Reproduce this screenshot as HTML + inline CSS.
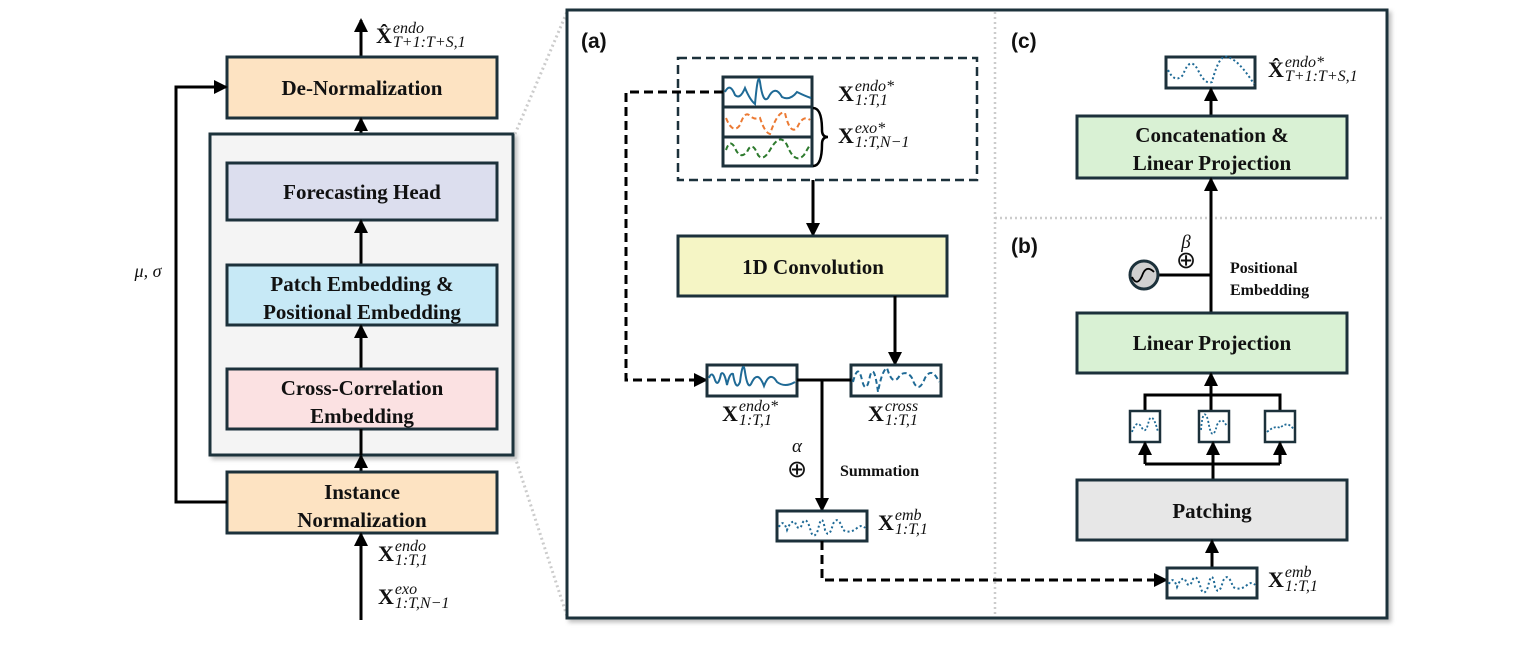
<!DOCTYPE html>
<html><head><meta charset="utf-8"><style>
body{margin:0;background:#fff;}
#c{position:relative;width:1521px;height:662px;overflow:hidden;font-family:"Liberation Serif",serif;}
svg{position:absolute;left:0;top:0;}
.m{position:absolute;font-family:"Liberation Serif",serif;color:#111;display:flex;align-items:center;white-space:nowrap;}
.m b{font-size:22px;font-weight:bold;}
.m .s{display:inline-flex;flex-direction:column;line-height:14px;font-size:16px;margin-left:1px;}
.m .s i{display:block;}
</style></head><body><div id="c">
<svg width="1521" height="662" viewBox="0 0 1521 662">
<defs>
<marker id="a" markerWidth="14" markerHeight="14" refX="12" refY="7" orient="auto" markerUnits="userSpaceOnUse"><path d="M0,0 L14,7 L0,14z" fill="#000"/></marker>
<filter id="sh" x="-5%" y="-5%" width="110%" height="110%"><feDropShadow dx="3" dy="3" stdDeviation="2" flood-color="#000" flood-opacity="0.25"/></filter>
</defs>
<g font-family="Liberation Serif" font-weight="bold" font-size="21" text-anchor="middle" fill="#111">
<line x1="361" y1="57" x2="361" y2="20" stroke="#000" stroke-width="3" marker-end="url(#a)"/>
<rect x="227" y="57" width="270" height="61" fill="#fde3c2" stroke="#1c313b" stroke-width="3"/>
<text x="362" y="95">De-Normalization</text>
<line x1="361" y1="134" x2="361" y2="119" stroke="#000" stroke-width="3" marker-end="url(#a)"/>
<rect x="210" y="134" width="303" height="321" fill="#f4f4f4" stroke="#1c313b" stroke-width="3" filter="url(#sh)"/>
<rect x="227" y="163" width="270" height="57" fill="#dcdeee" stroke="#1c313b" stroke-width="3"/>
<text x="362" y="199">Forecasting Head</text>
<line x1="361" y1="265" x2="361" y2="221" stroke="#000" stroke-width="3" marker-end="url(#a)"/>
<rect x="227" y="265" width="270" height="60" fill="#c7e9f6" stroke="#1c313b" stroke-width="3"/>
<text x="362" y="291">Patch Embedding &amp;</text>
<text x="362" y="319">Positional Embedding</text>
<line x1="361" y1="369" x2="361" y2="326" stroke="#000" stroke-width="3" marker-end="url(#a)"/>
<rect x="227" y="369" width="270" height="60" fill="#fbe1e2" stroke="#1c313b" stroke-width="3"/>
<text x="362" y="395">Cross-Correlation</text>
<text x="362" y="423">Embedding</text>
<line x1="361" y1="429" x2="361" y2="455" stroke="#000" stroke-width="3"/>
<line x1="361" y1="472" x2="361" y2="456" stroke="#000" stroke-width="3" marker-end="url(#a)"/>
<rect x="227" y="472" width="270" height="61" fill="#fde3c2" stroke="#1c313b" stroke-width="3"/>
<text x="362" y="499">Instance</text>
<text x="362" y="527">Normalization</text>
<line x1="361" y1="620" x2="361" y2="534" stroke="#000" stroke-width="3" marker-end="url(#a)"/>
<polyline points="227,502 176,502 176,87 226,87" fill="none" stroke="#000" stroke-width="3" marker-end="url(#a)"/>
<text x="148" y="277" font-weight="normal" font-style="italic" font-size="18">μ, σ</text>
<line x1="515" y1="134" x2="567" y2="12" stroke="#ccc" stroke-width="3" stroke-dasharray="2,3"/>
<line x1="515" y1="457" x2="567" y2="616" stroke="#ccc" stroke-width="3" stroke-dasharray="2,3"/>
<rect x="567" y="10" width="820" height="608" fill="#fff" stroke="#1c313b" stroke-width="3" filter="url(#sh)"/>
<line x1="995" y1="12" x2="995" y2="616" stroke="#ccc" stroke-width="2.5" stroke-dasharray="2,3"/>
<line x1="995" y1="218" x2="1385" y2="218" stroke="#ccc" stroke-width="2.5" stroke-dasharray="2,3"/>
<g font-family="Liberation Sans" font-size="21" text-anchor="start">
<text x="581" y="48">(a)</text><text x="1011" y="48">(c)</text><text x="1011" y="253">(b)</text>
</g>
<rect x="678" y="58" width="299" height="122" fill="none" stroke="#1c313b" stroke-width="2.5" stroke-dasharray="9,5"/>
<rect x="723" y="77" width="89" height="89" fill="#fff" stroke="#1c313b" stroke-width="3"/>
<line x1="723" y1="107" x2="812" y2="107" stroke="#1c313b" stroke-width="3"/>
<line x1="723" y1="137" x2="812" y2="137" stroke="#1c313b" stroke-width="3"/>
<path d="M725,92 Q730,82 735,95 Q740,100 745,88 Q750,100 755,104 Q758,70 760,82 Q763,104 768,98 Q775,84 782,97 Q790,101 797,92 Q805,96 811,98" fill="none" stroke="#1f6a96" stroke-width="2"/>
<path d="M726,118 Q733,135 740,125 Q745,110 750,116 Q755,120 760,118 Q765,133 770,134 Q778,110 785,113 Q790,135 797,128 Q803,114 810,120" fill="none" stroke="#ec7a33" stroke-width="2" stroke-dasharray="5,3"/>
<path d="M726,150 Q730,138 735,148 Q740,160 747,152 Q752,140 758,155 Q763,162 770,150 Q780,132 787,145 Q795,165 804,155 Q808,148 810,145" fill="none" stroke="#2d7a2d" stroke-width="2" stroke-dasharray="5,3"/>
<path d="M813,108 Q822,108 822,130 Q822,137 828,137 Q822,137 822,144 Q822,166 813,166" fill="none" stroke="#000" stroke-width="2.5"/>
<line x1="813" y1="180" x2="813" y2="235" stroke="#000" stroke-width="3" marker-end="url(#a)"/>
<rect x="678" y="236" width="269" height="60" fill="#f5f5c5" stroke="#1c313b" stroke-width="3"/>
<text x="813" y="274">1D Convolution</text>
<line x1="895" y1="296" x2="895" y2="364" stroke="#000" stroke-width="3" marker-end="url(#a)"/>
<polyline points="723,92 626,92 626,380 706,380" fill="none" stroke="#000" stroke-width="3" stroke-dasharray="9,5" marker-end="url(#a)"/>
<rect x="707" y="365" width="90" height="31" fill="#fff" stroke="#1c313b" stroke-width="3"/>
<path d="M709,378 Q712,370 715,380 Q718,388 721,374 Q724,370 727,385 Q730,372 733,374 Q736,392 740,382 Q743,358 745,372 Q748,392 752,382 Q758,370 764,386 Q770,370 777,382 Q785,388 795,382" fill="none" stroke="#1f6a96" stroke-width="2"/>
<rect x="851" y="365" width="90" height="31" fill="#fff" stroke="#1c313b" stroke-width="3"/>
<path d="M853,382 Q858,362 862,380 Q866,396 870,376 Q874,362 878,392 Q882,370 887,368 Q893,388 900,375 Q907,370 912,378 Q918,396 925,378 Q932,366 939,382" fill="none" stroke="#1f6a96" stroke-width="2" stroke-dasharray="5,3"/>
<line x1="797" y1="380" x2="851" y2="380" stroke="#000" stroke-width="3"/>
<line x1="822" y1="380" x2="822" y2="510" stroke="#000" stroke-width="3" marker-end="url(#a)"/>
<text x="797" y="452" font-weight="normal" font-style="italic" font-size="19">α</text>
<text x="797" y="477" font-weight="normal" font-size="24">⊕</text>
<text x="840" y="476" font-size="16" text-anchor="start">Summation</text>
<rect x="777" y="511" width="90" height="30" fill="#fff" stroke="#1c313b" stroke-width="3"/>
<path d="M779,527 Q783,518 787,530 Q791,520 795,522 Q799,534 803,522 Q807,516 811,532 Q814,540 818,530 Q822,510 825,530 Q829,540 833,524 Q838,514 843,530 Q850,534 857,528 Q862,524 865,528" fill="none" stroke="#1f6a96" stroke-width="2" stroke-dasharray="2,2.5"/>
<polyline points="822,541 822,580 1166,580" fill="none" stroke="#000" stroke-width="3" stroke-dasharray="9,5" marker-end="url(#a)"/>
<rect x="1166" y="57" width="89" height="31" fill="#fff" stroke="#1c313b" stroke-width="3"/>
<path d="M1168,70 Q1175,84 1183,75 Q1190,55 1198,70 Q1205,85 1212,82 Q1220,50 1230,58 Q1240,62 1254,84" fill="none" stroke="#1f6a96" stroke-width="2" stroke-dasharray="2,2.5"/>
<line x1="1211" y1="116" x2="1211" y2="89" stroke="#000" stroke-width="3" marker-end="url(#a)"/>
<rect x="1077" y="116" width="270" height="62" fill="#d9f1d4" stroke="#1c313b" stroke-width="3"/>
<text x="1212" y="142">Concatenation &amp;</text>
<text x="1212" y="170">Linear Projection</text>
<line x1="1211" y1="313" x2="1211" y2="179" stroke="#000" stroke-width="3" marker-end="url(#a)"/>
<line x1="1158" y1="275" x2="1211" y2="275" stroke="#000" stroke-width="3"/>
<circle cx="1144" cy="275" r="14" fill="#d0d0d0" stroke="#1c313b" stroke-width="3"/>
<path d="M1132,277 Q1137,287 1142,276 Q1146,264 1154,272" fill="none" stroke="#000" stroke-width="1.8"/>
<text x="1186" y="248" font-weight="normal" font-style="italic" font-size="19">β</text>
<text x="1186" y="268" font-weight="normal" font-size="24">⊕</text>
<text x="1230" y="273" font-size="16" text-anchor="start">Positional</text>
<text x="1230" y="295" font-size="16" text-anchor="start">Embedding</text>
<rect x="1077" y="313" width="270" height="60" fill="#d9f1d4" stroke="#1c313b" stroke-width="3"/>
<text x="1212" y="350">Linear Projection</text>
<polyline points="1145,411 1145,395 1280,395 1280,411" fill="none" stroke="#000" stroke-width="3"/>
<line x1="1211" y1="411" x2="1211" y2="374" stroke="#000" stroke-width="3" marker-end="url(#a)"/>
<rect x="1130" y="411" width="30" height="31" fill="#fff" stroke="#1c313b" stroke-width="2.5"/>
<path d="M1132,432 Q1137,418 1142,428 Q1146,435 1149,420 Q1153,412 1158,432" fill="none" stroke="#1f6a96" stroke-width="1.8" stroke-dasharray="2,2"/>
<rect x="1199" y="411" width="30" height="31" fill="#fff" stroke="#1c313b" stroke-width="2.5"/>
<path d="M1201,430 Q1203,405 1208,420 Q1212,445 1217,425 Q1222,415 1227,427" fill="none" stroke="#1f6a96" stroke-width="1.8" stroke-dasharray="2,2"/>
<rect x="1265" y="411" width="30" height="31" fill="#fff" stroke="#1c313b" stroke-width="2.5"/>
<path d="M1267,432 Q1275,425 1280,428 Q1288,420 1294,430" fill="none" stroke="#1f6a96" stroke-width="1.8" stroke-dasharray="2,2"/>
<polyline points="1145,464 1280,464" fill="none" stroke="#000" stroke-width="3"/>
<line x1="1145" y1="464" x2="1145" y2="443" stroke="#000" stroke-width="3" marker-end="url(#a)"/>
<line x1="1213" y1="480" x2="1213" y2="443" stroke="#000" stroke-width="3" marker-end="url(#a)"/>
<line x1="1280" y1="464" x2="1280" y2="443" stroke="#000" stroke-width="3" marker-end="url(#a)"/>
<rect x="1077" y="480" width="270" height="60" fill="#e7e7e7" stroke="#1c313b" stroke-width="3"/>
<text x="1212" y="518">Patching</text>
<line x1="1212" y1="568" x2="1212" y2="541" stroke="#000" stroke-width="3" marker-end="url(#a)"/>
<rect x="1167" y="568" width="90" height="30" fill="#fff" stroke="#1c313b" stroke-width="3"/>
<path d="M1169,584 Q1173,575 1177,587 Q1181,577 1185,579 Q1189,591 1193,579 Q1197,573 1201,589 Q1204,597 1208,587 Q1212,567 1215,587 Q1219,597 1223,581 Q1228,571 1233,587 Q1240,591 1247,585 Q1252,581 1255,585" fill="none" stroke="#1f6a96" stroke-width="2" stroke-dasharray="2,2.5"/>
</g>
</svg>
<div class="m" style="left:376px;top:22px;"><b>X̂</b><span class="s"><i>endo</i><i>T+1:T+S,1</i></span></div>
<div class="m" style="left:378px;top:540px;"><b>X</b><span class="s"><i>endo</i><i>1:T,1</i></span></div>
<div class="m" style="left:378px;top:583px;"><b>X</b><span class="s"><i>exo</i><i>1:T,N−1</i></span></div>
<div class="m" style="left:838px;top:80px;"><b>X</b><span class="s"><i>endo*</i><i>1:T,1</i></span></div>
<div class="m" style="left:838px;top:122px;"><b>X</b><span class="s"><i>exo*</i><i>1:T,N−1</i></span></div>
<div class="m" style="left:722px;top:400px;"><b>X</b><span class="s"><i>endo*</i><i>1:T,1</i></span></div>
<div class="m" style="left:868px;top:400px;"><b>X</b><span class="s"><i>cross</i><i>1:T,1</i></span></div>
<div class="m" style="left:878px;top:509px;"><b>X</b><span class="s"><i>emb</i><i>1:T,1</i></span></div>
<div class="m" style="left:1268px;top:56px;"><b>X̂</b><span class="s"><i>endo*</i><i>T+1:T+S,1</i></span></div>
<div class="m" style="left:1268px;top:566px;"><b>X</b><span class="s"><i>emb</i><i>1:T,1</i></span></div>
</div></body></html>
